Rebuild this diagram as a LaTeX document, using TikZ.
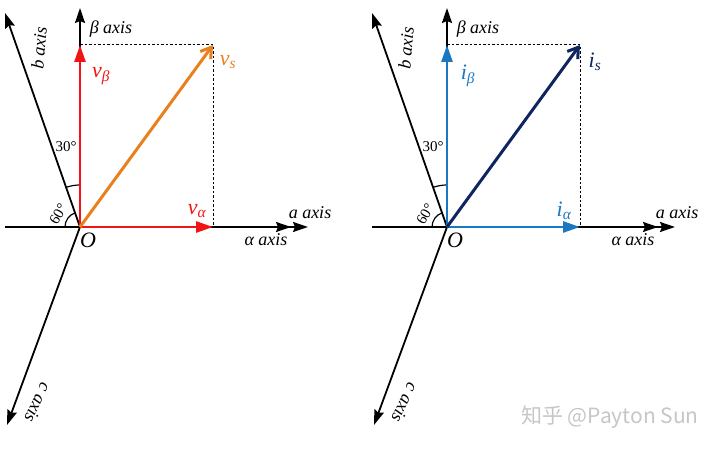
\documentclass[tikz,border=0pt]{standalone}
\usepackage{fontspec}
\setmainfont{Liberation Serif}[ItalicFont={Liberation Serif Italic}]
\newfontfamily\cjkfont{Noto Sans CJK SC}
\usetikzlibrary{arrows.meta}
\definecolor{vred}{HTML}{F01414}
\definecolor{vorange}{HTML}{E8801E}
\definecolor{iblue}{HTML}{1A78C2}
\definecolor{inavy}{HTML}{0E2560}
\tikzset{
  axis/.style={line width=1.8pt, -{Stealth[length=15pt,width=10pt,inset=2pt]}},
  comp/.style={line width=2.6pt, -{Triangle[length=17pt,width=11pt]}},
  vec/.style={line width=3pt, -{Straight Barb[length=10pt,width=13pt]}},
  proj/.style={line width=1pt, dash pattern=on 2.5pt off 2pt},
  ang/.style={line width=1.2pt},
  lbl/.style={font=\fontsize{18}{18}\selectfont\itshape, inner sep=0pt},
  veclbl/.style={font=\fontsize{22}{22}\selectfont\itshape, inner sep=0pt},
  deg/.style={font=\fontsize{15}{15}\selectfont, inner sep=0pt},
}
\begin{document}
\begin{tikzpicture}[x=1pt,y=1pt]
\useasboundingbox (0,0) rectangle (720,449);
% voltage
\coordinate (vO) at (80,222);
\coordinate (vL) at (5,222);
\coordinate (vA) at (308,222);
\coordinate (va) at (291,222);
\coordinate (vB) at (80,441);
\coordinate (vb) at (5,436);
\coordinate (vc) at (7,24);
\coordinate (valpha) at (213,222);
\coordinate (vbeta) at (80,404);
\coordinate (vs) at (213,404);
\draw[axis] (vL) -- (vA);
\draw[axis] (vO) -- (va);
\draw[axis] (vO) -- (vB);
\draw[axis] (vO) -- (vb);
\draw[axis] (vO) -- (vc);
\draw[ang] ([shift={(90:42)}]vO) arc (90:109.3:42);
\draw[ang] ([shift={(109.3:15)}]vO) arc (109.3:180:15);
\draw[proj] (vbeta) -- (vs) -- (valpha);
\draw[comp, vred] (vO) -- (valpha);
\draw[comp, vred] (vO) -- (vbeta);
\draw[vec, vorange] (vO) -- (vs);
\node[lbl] (vatext) at (310,236) {a axis};
\node[lbl] (vAtext) at (266,209) {α axis};
\node[lbl] (vBtext) at (111,420) {β axis};
\node[lbl, rotate=85] (vbtext) at (39,401) {b axis};
\node[lbl, rotate=-115] (vctext) at (38,46) {c axis};
\node[veclbl, vred] (valphatext) at (197,238) {v\textsubscript{α}};
\node[veclbl, vred] (vbetatext) at (101,373) {v\textsubscript{β}};
\node[veclbl, vorange] (vstext) at (228,387) {v\textsubscript{s}};
\node[veclbl] (vOtext) at (88,209) {O};
\node[deg] (v30) at (66,302) {30°};
\node[deg, rotate=60] (v60) at (58,235) {60°};
% current
\coordinate (iO) at (447,222);
\coordinate (iL) at (372,222);
\coordinate (iA) at (675,222);
\coordinate (ia) at (658,222);
\coordinate (iB) at (447,441);
\coordinate (ib) at (372,436);
\coordinate (ic) at (374,24);
\coordinate (ialpha) at (580,222);
\coordinate (ibeta) at (447,404);
\coordinate (is) at (580,404);
\draw[axis] (iL) -- (iA);
\draw[axis] (iO) -- (ia);
\draw[axis] (iO) -- (iB);
\draw[axis] (iO) -- (ib);
\draw[axis] (iO) -- (ic);
\draw[ang] ([shift={(90:42)}]iO) arc (90:109.3:42);
\draw[ang] ([shift={(109.3:15)}]iO) arc (109.3:180:15);
\draw[proj] (ibeta) -- (is) -- (ialpha);
\draw[comp, iblue] (iO) -- (ialpha);
\draw[comp, iblue] (iO) -- (ibeta);
\draw[vec, inavy] (iO) -- (is);
\node[lbl] (iatext) at (677,236) {a axis};
\node[lbl] (iAtext) at (633,209) {α axis};
\node[lbl] (iBtext) at (478,420) {β axis};
\node[lbl, rotate=85] (ibtext) at (406,401) {b axis};
\node[lbl, rotate=-115] (ictext) at (405,46) {c axis};
\node[veclbl, iblue] (ialphatext) at (564,238) {i\textsubscript{α}};
\node[veclbl, iblue] (ibetatext) at (468,373) {i\textsubscript{β}};
\node[veclbl, inavy] (istext) at (595,387) {i\textsubscript{s}};
\node[veclbl] (iOtext) at (455,209) {O};
\node[deg] (i30) at (433,302) {30°};
\node[deg, rotate=60] (i60) at (425,235) {60°};
\node[text=gray!45, inner sep=0pt, font=\fontsize{21}{21}\selectfont\cjkfont] (mark) at (610,32) {知乎 @Payton Sun};
\end{tikzpicture}
\end{document}
